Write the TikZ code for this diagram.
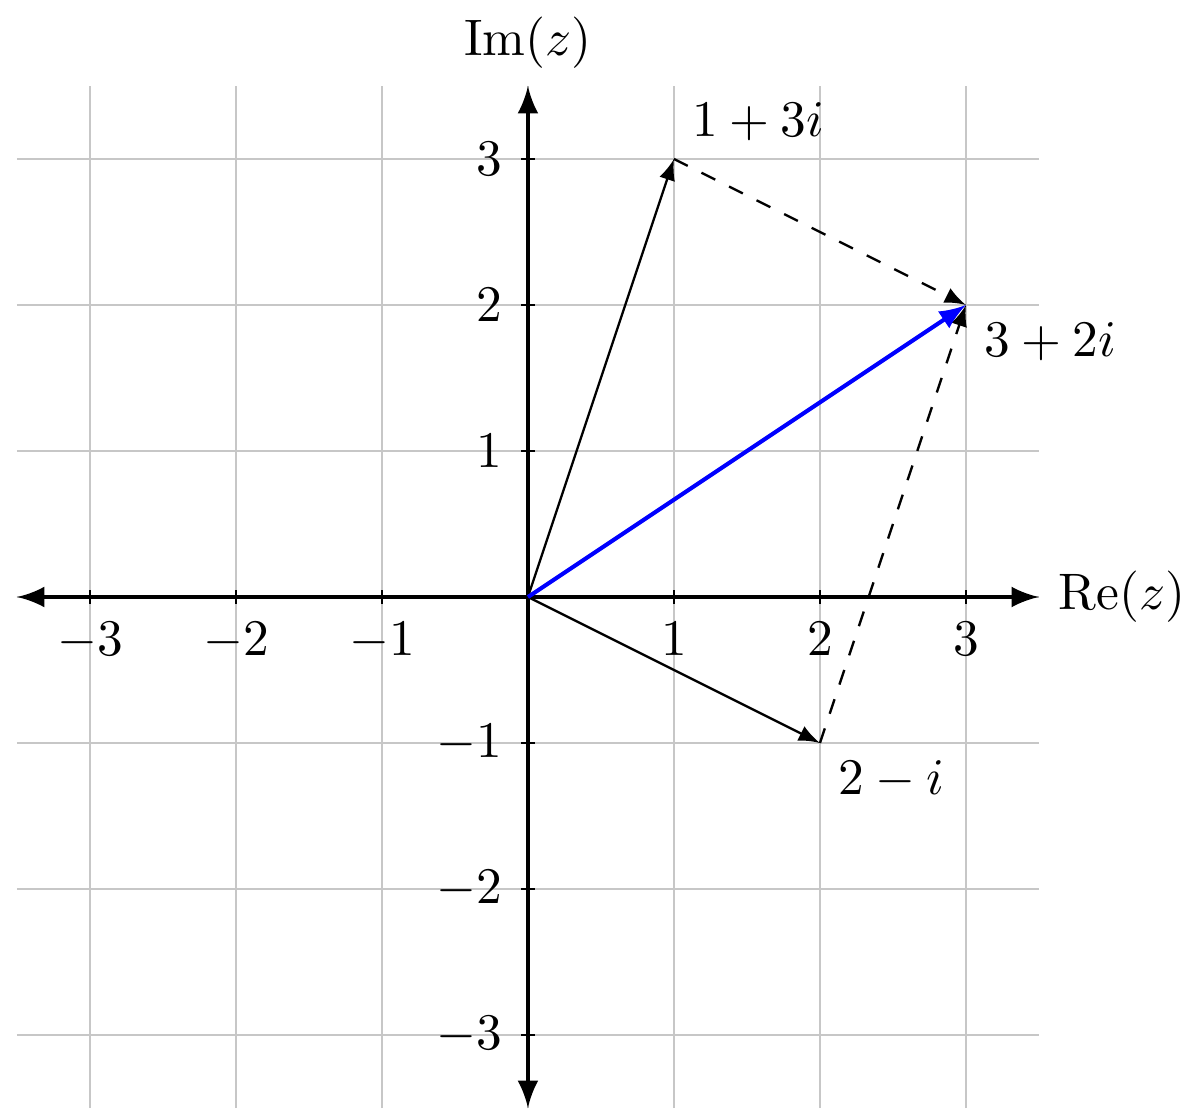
\documentclass[tikz,border=0pt]{standalone}
\usetikzlibrary{arrows}
\begin{document}
\begin{tikzpicture}[x=1cm,y=1cm,
  gridline/.style={black!22, line width=0.4pt},
  axisline/.style={line width=0.85pt, latex-latex},
  vec/.style={line width=0.45pt, -latex},
  sumvec/.style={blue, line width=0.8pt, -latex},
  helper/.style={line width=0.45pt, dashed, -latex},
  ticklbl/.style={inner sep=3.33pt}]
\useasboundingbox (-3.616,-3.5) rectangle (4.603,4.089);
% grid
\foreach \k in {-3,...,3} {
  \draw[gridline] (\k,-3.5) -- (\k,3.5);
  \draw[gridline] (-3.5,\k) -- (3.5,\k);
}
% axes
\coordinate (xl) at (-3.5,0);
\coordinate (xr) at (3.5,0);
\coordinate (yb) at (0,-3.5);
\coordinate (yt) at (0,3.5);
\draw[axisline] (xl) -- (xr);
\draw[axisline] (yb) -- (yt);
\node[anchor=west, inner sep=3.33pt] (relbl) at (3.51,0) {$\mathrm{Re}(z)$};
\node[anchor=south, inner sep=3.33pt] (imlbl) at (0,3.5) {$\mathrm{Im}(z)$};
% ticks and labels
\foreach \k in {-3,-2,-1,1,2,3} {
  \draw[line width=0.4pt] (\k,-0.045) -- (\k,0.045);
  \draw[line width=0.4pt] (-0.045,\k) -- (0.045,\k);
  \node[ticklbl, anchor=north] (xt\k) at (\k,-0.05) {$\k$};
  \node[ticklbl, anchor=east] (yt\k) at (-0.05,\k) {$\k$};
}
% points
\coordinate (O) at (0,0);
\coordinate (A) at (1,3);
\coordinate (B) at (2,-1);
\coordinate (C) at (3,2);
% vectors
\draw[helper] (A) -- (C);
\draw[helper] (B) -- (C);
\draw[vec] (O) -- (A);
\draw[vec] (O) -- (B);
\draw[sumvec] (O) -- (C);
% labels
\node[anchor=south west, inner sep=3.33pt] (alb) at (A) {$1+3i$};
\node[anchor=north west, inner sep=3.33pt] (clb) at (C) {$3+2i$};
\node[anchor=north west, inner sep=3.33pt] (blb) at (B) {$2-i$};
\end{tikzpicture}
\end{document}
